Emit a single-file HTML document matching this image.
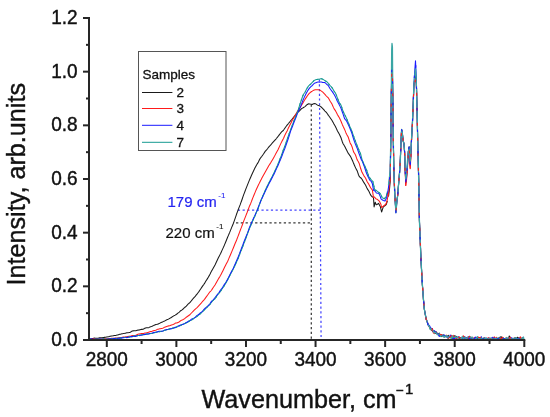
<!DOCTYPE html>
<html><head><meta charset="utf-8"><title>Spectra</title>
<style>html,body{margin:0;padding:0;background:#fff;}body{width:550px;height:417px;overflow:hidden;}svg{display:block;}</style>
</head><body>
<svg width="550" height="417" viewBox="0 0 550 417">
<rect width="550" height="417" fill="#fff"/>
<g fill="none" stroke-width="1.25">
<line x1="237.9" y1="210.1" x2="320.6" y2="210.1" stroke="#4646ff" stroke-dasharray="2.2 2.51"/>
<line x1="319.4" y1="79.5" x2="321.1" y2="339" stroke="#4646ff" stroke-dasharray="2.2 2.53"/>
<line x1="236" y1="222.9" x2="311.3" y2="222.9" stroke="#3a3a3a" stroke-dasharray="2.3 2.475"/>
<line x1="311.3" y1="104.67" x2="311.3" y2="339" stroke="#3a3a3a" stroke-dasharray="2.2 2.53"/>
</g>
<g fill="none" stroke-width="1.05" stroke-linejoin="round">
<polyline points="89.00,338.59 89.70,338.62 90.40,338.65 91.10,338.64 91.80,338.58 92.50,338.52 93.20,338.38 93.90,338.21 94.60,338.13 95.30,338.26 96.00,338.38 96.70,338.35 97.40,338.26 98.10,338.15 98.80,338.01 99.50,337.86 100.20,337.80 100.90,337.81 101.60,337.81 102.30,337.71 103.00,337.60 103.70,337.49 104.40,337.39 105.10,337.28 105.80,337.15 106.50,337.02 107.20,336.91 107.90,336.83 108.60,336.76 109.30,336.57 110.00,336.35 110.70,336.14 111.40,336.06 112.10,335.97 112.80,335.84 113.50,335.68 114.20,335.51 114.90,335.46 115.60,335.40 116.30,335.28 117.00,335.09 117.70,334.90 118.40,334.72 119.10,334.54 119.80,334.36 120.50,334.17 121.20,333.97 121.90,333.83 122.60,333.71 123.30,333.59 124.00,333.45 124.70,333.31 125.40,333.15 126.10,332.96 126.80,332.78 127.50,332.74 128.20,332.70 128.90,332.60 129.60,332.41 130.30,332.22 131.00,331.80 131.70,331.34 132.40,330.99 133.10,330.89 133.80,330.79 134.50,330.73 135.20,330.70 135.90,330.65 136.60,330.46 137.30,330.27 138.00,330.12 138.70,329.99 139.40,329.87 140.10,329.69 140.80,329.51 141.50,329.39 142.20,329.36 142.90,329.33 143.60,328.94 144.30,328.49 145.00,328.12 145.70,327.98 146.40,327.84 147.10,327.79 147.80,327.78 148.50,327.71 149.20,327.39 149.90,327.05 150.60,326.78 151.30,326.56 152.00,326.32 152.70,325.99 153.40,325.65 154.10,325.31 154.80,324.97 155.50,324.62 156.20,324.47 156.90,324.35 157.60,324.18 158.30,323.90 159.00,323.61 159.70,323.24 160.40,322.83 161.10,322.44 161.80,322.17 162.50,321.90 163.20,321.62 163.90,321.34 164.60,321.06 165.30,320.64 166.00,320.22 166.70,319.85 167.40,319.55 168.10,319.24 168.80,318.88 169.50,318.50 170.20,318.11 170.90,317.70 171.60,317.28 172.30,316.81 173.00,316.33 173.70,315.86 174.40,315.49 175.10,315.12 175.80,314.69 176.50,314.23 177.20,313.75 177.90,313.20 178.60,312.63 179.30,312.03 180.00,311.39 180.70,310.74 181.40,310.27 182.10,309.82 182.80,309.29 183.50,308.58 184.20,307.86 184.90,307.28 185.60,306.75 186.30,306.16 187.00,305.33 187.70,304.48 188.40,303.81 189.10,303.26 189.80,302.69 190.50,301.87 191.20,301.03 191.90,300.17 192.60,299.28 193.30,298.37 194.00,297.60 194.70,296.84 195.40,296.04 196.10,295.20 196.80,294.34 197.50,293.46 198.20,292.55 198.90,291.62 199.60,290.55 200.30,289.47 201.00,288.43 201.70,287.41 202.40,286.36 203.10,285.42 203.80,284.46 204.50,283.41 205.20,282.25 205.90,281.07 206.60,279.96 207.30,278.85 208.00,277.72 208.70,276.56 209.40,275.38 210.10,274.00 210.80,272.54 211.50,271.12 212.20,269.98 212.90,268.82 213.60,267.61 214.30,266.34 215.00,265.06 215.70,263.55 216.40,262.03 217.10,260.52 217.80,259.05 218.50,257.57 219.20,256.21 219.90,254.87 220.60,253.47 221.30,251.92 222.00,250.36 222.70,248.86 223.40,247.36 224.10,245.82 224.80,244.14 225.50,242.43 226.20,240.71 226.90,238.98 227.60,237.22 228.30,235.66 229.00,234.08 229.70,232.42 230.40,230.65 231.10,228.87 231.80,227.17 232.50,225.47 233.20,223.71 233.90,221.81 234.60,219.90 235.30,217.89 236.00,215.83 236.70,213.79 237.40,211.89 238.10,209.99 238.80,208.17 239.50,206.40 240.20,204.63 240.90,202.67 241.60,200.71 242.30,198.72 243.00,196.69 243.70,194.67 244.40,192.81 245.10,190.99 245.80,189.18 246.50,187.39 247.20,185.63 247.90,183.86 248.60,182.12 249.30,180.42 250.00,178.79 250.70,177.19 251.40,175.58 252.10,173.99 252.80,172.43 253.50,170.94 254.20,169.50 254.90,168.10 255.60,166.75 256.30,165.43 257.00,164.26 257.70,163.15 258.40,161.95 259.10,160.50 259.80,159.09 260.50,158.03 261.20,157.14 261.90,156.25 262.60,155.24 263.30,154.25 264.00,153.21 264.70,152.13 265.40,151.07 266.10,150.31 266.80,149.56 267.50,148.73 268.20,147.77 268.90,146.83 269.60,146.09 270.30,145.39 271.00,144.63 271.70,143.73 272.40,142.84 273.10,142.06 273.80,141.32 274.50,140.59 275.20,139.84 275.90,139.09 276.60,138.28 277.30,137.40 278.00,136.52 278.70,135.60 279.40,134.68 280.10,133.77 280.80,132.87 281.50,131.97 282.20,131.35 282.90,130.77 283.60,130.05 284.30,129.01 285.00,127.96 285.70,126.99 286.40,126.05 287.10,125.12 287.80,124.30 288.50,123.48 289.20,122.61 289.90,121.70 290.60,120.79 291.30,120.01 292.00,119.24 292.70,118.41 293.40,117.50 294.10,116.60 294.80,115.77 295.50,114.97 296.20,114.16 296.90,113.33 297.60,112.52 298.30,111.85 299.00,111.25 299.70,110.64 300.40,109.85 301.10,109.08 301.80,108.50 302.50,108.08 303.20,107.70 303.90,107.27 304.60,106.88 305.30,106.35 306.00,105.63 306.70,104.93 307.40,104.46 308.10,104.05 308.80,103.80 309.50,103.91 310.20,104.08 310.90,104.21 311.60,104.36 312.30,104.47 313.00,104.06 313.70,103.69 314.40,103.59 315.10,103.70 315.80,103.86 316.50,104.33 317.20,104.86 317.90,105.25 318.60,105.43 319.30,105.66 320.00,106.13 320.70,106.68 321.40,107.27 322.10,107.88 322.80,108.54 323.50,109.31 324.20,110.16 324.90,111.01 325.60,111.67 326.30,112.37 327.00,113.25 327.70,114.28 328.40,115.35 329.10,116.28 329.80,117.25 330.50,118.24 331.20,119.24 331.90,120.28 332.60,121.52 333.30,122.82 334.00,124.11 334.70,125.28 335.40,126.47 336.10,127.90 336.80,129.44 337.50,130.97 338.20,132.17 338.90,133.38 339.60,134.75 340.30,136.24 341.00,137.75 341.70,139.84 342.40,141.97 343.10,143.69 343.80,144.84 344.50,145.95 345.20,147.33 345.90,148.71 346.60,150.08 347.30,151.51 348.00,152.88 348.70,153.94 349.40,154.85 350.10,155.82 350.80,157.10 351.50,158.44 352.20,159.93 352.90,161.57 353.60,163.32 354.30,164.92 355.00,166.57 355.70,168.09 356.40,169.38 357.10,170.62 357.80,172.66 358.50,174.73 359.20,176.38 359.90,177.15 360.60,177.72 361.30,178.27 362.00,179.20 363.80,182.40 365.50,185.00 367.20,188.60 368.90,191.30 370.40,194.60 371.80,196.50 373.50,197.60 374.10,207.00 375.20,202.20 376.20,204.80 377.00,204.50 378.60,203.40 380.40,206.80 381.60,212.00 383.30,206.80 384.80,205.80 386.20,204.50 387.40,201.00" stroke="#1a1a1a"/>
<polyline points="89.00,338.92 89.70,338.90 90.40,338.87 91.10,338.87 91.80,338.90 92.50,338.93 93.20,338.82 93.90,338.68 94.60,338.67 95.30,338.99 96.00,339.30 96.70,339.35 97.40,339.30 98.10,339.24 98.80,339.13 99.50,339.01 100.20,339.00 100.90,339.07 101.60,339.13 102.30,339.07 103.00,339.01 103.70,338.94 104.40,338.85 105.10,338.76 105.80,338.82 106.50,338.89 107.20,338.91 107.90,338.77 108.60,338.63 109.30,338.56 110.00,338.51 110.70,338.45 111.40,338.36 112.10,338.27 112.80,338.25 113.50,338.28 114.20,338.31 114.90,338.20 115.60,338.09 116.30,338.01 117.00,337.99 117.70,337.96 118.40,337.81 119.10,337.65 119.80,337.52 120.50,337.48 121.20,337.45 121.90,337.32 122.60,337.15 123.30,337.01 124.00,337.03 124.70,337.06 125.40,336.98 126.10,336.83 126.80,336.67 127.50,336.57 128.20,336.47 128.90,336.36 129.60,336.25 130.30,336.13 131.00,335.92 131.70,335.69 132.40,335.52 133.10,335.53 133.80,335.53 134.50,335.50 135.20,335.45 135.90,335.35 136.60,334.94 137.30,334.52 138.00,334.25 138.70,334.09 139.40,333.94 140.10,333.80 140.80,333.66 141.50,333.58 142.20,333.60 142.90,333.61 143.60,333.42 144.30,333.20 145.00,333.02 145.70,332.91 146.40,332.81 147.10,332.64 147.80,332.43 148.50,332.22 149.20,332.00 149.90,331.77 150.60,331.57 151.30,331.39 152.00,331.20 152.70,330.97 153.40,330.74 154.10,330.56 154.80,330.44 155.50,330.31 156.20,329.99 156.90,329.63 157.60,329.33 158.30,329.17 159.00,329.01 159.70,328.84 160.40,328.68 161.10,328.52 161.80,328.41 162.50,328.30 163.20,328.02 163.90,327.59 164.60,327.17 165.30,326.91 166.00,326.65 166.70,326.42 167.40,326.22 168.10,326.02 168.80,325.88 169.50,325.75 170.20,325.56 170.90,325.22 171.60,324.88 172.30,324.68 173.00,324.54 173.70,324.34 174.40,323.83 175.10,323.31 175.80,323.04 176.50,322.97 177.20,322.89 177.90,322.56 178.60,322.22 179.30,321.79 180.00,321.24 180.70,320.67 181.40,320.34 182.10,320.04 182.80,319.71 183.50,319.33 184.20,318.93 184.90,318.40 185.60,317.80 186.30,317.21 187.00,316.74 187.70,316.25 188.40,315.76 189.10,315.28 189.80,314.79 190.50,314.02 191.20,313.24 191.90,312.50 192.60,311.81 193.30,311.12 194.00,310.42 194.70,309.71 195.40,309.04 196.10,308.45 196.80,307.86 197.50,307.14 198.20,306.35 198.90,305.56 199.60,304.81 200.30,304.06 201.00,303.29 201.70,302.51 202.40,301.72 203.10,300.97 203.80,300.20 204.50,299.34 205.20,298.35 205.90,297.35 206.60,296.42 207.30,295.48 208.00,294.52 208.70,293.52 209.40,292.50 210.10,291.71 210.80,291.01 211.50,290.24 212.20,289.14 212.90,288.01 213.60,286.98 214.30,286.01 215.00,285.03 215.70,283.80 216.40,282.54 217.10,281.29 217.80,280.05 218.50,278.79 219.20,277.64 219.90,276.49 220.60,275.27 221.30,273.93 222.00,272.57 222.70,271.15 223.40,269.69 224.10,268.22 224.80,266.83 225.50,265.42 226.20,264.08 226.90,262.80 227.60,261.49 228.30,259.84 229.00,258.17 229.70,256.53 230.40,254.93 231.10,253.32 231.80,251.63 232.50,249.92 233.20,248.19 233.90,246.47 234.60,244.72 235.30,243.07 236.00,241.45 236.70,239.79 237.40,237.93 238.10,236.06 238.80,234.20 239.50,232.33 240.20,230.45 240.90,228.66 241.60,226.86 242.30,225.00 243.00,223.08 243.70,221.15 244.40,219.36 245.10,217.59 245.80,215.82 246.50,214.05 247.20,212.30 247.90,210.40 248.60,208.45 249.30,206.57 250.00,204.99 250.70,203.42 251.40,201.66 252.10,199.75 252.80,197.85 253.50,196.18 254.20,194.54 254.90,192.88 255.60,191.17 256.30,189.50 257.00,187.98 257.70,186.51 258.40,185.07 259.10,183.64 259.80,182.25 260.50,180.84 261.20,179.45 261.90,178.08 262.60,176.76 263.30,175.46 264.00,174.20 264.70,172.96 265.40,171.74 266.10,170.52 266.80,169.30 267.50,168.07 268.20,166.82 268.90,165.57 269.60,164.46 270.30,163.36 271.00,162.25 271.70,161.08 272.40,159.90 273.10,158.70 273.80,157.47 274.50,156.21 275.20,154.88 275.90,153.53 276.60,152.26 277.30,151.04 278.00,149.80 278.70,148.24 279.40,146.66 280.10,145.12 280.80,143.64 281.50,142.15 282.20,140.87 282.90,139.62 283.60,138.25 284.30,136.57 285.00,134.90 285.70,133.51 286.40,132.24 287.10,130.94 287.80,129.37 288.50,127.80 289.20,126.40 289.90,125.12 290.60,123.86 291.30,122.32 292.00,120.80 292.70,119.47 293.40,118.41 294.10,117.37 294.80,116.08 295.50,114.77 296.20,113.50 296.90,112.26 297.60,111.05 298.30,110.07 299.00,109.17 299.70,108.25 300.40,107.09 301.10,105.93 301.80,104.78 302.50,103.62 303.20,102.45 303.90,101.25 304.60,100.04 305.30,98.90 306.00,97.85 306.70,96.84 307.40,95.81 308.10,94.82 308.80,93.93 309.50,93.21 310.20,92.58 310.90,92.00 311.60,91.51 312.30,91.09 313.00,90.61 313.70,90.19 314.40,89.93 315.10,89.80 315.80,89.73 316.50,89.70 317.20,89.73 317.90,89.77 318.60,89.81 319.30,89.90 320.00,90.22 320.70,90.63 321.40,91.09 322.10,91.59 322.80,92.15 323.50,92.79 324.20,93.51 324.90,94.29 325.60,95.12 326.30,96.00 327.00,96.72 327.70,97.33 328.40,97.99 329.10,99.23 329.80,100.53 330.50,101.74 331.20,102.78 331.90,103.86 332.60,105.44 333.30,107.13 334.00,108.63 334.70,109.60 335.40,110.58 336.10,111.88 336.80,113.32 337.50,114.74 338.20,115.86 338.90,116.98 339.60,118.29 340.30,119.75 341.00,121.24 341.70,122.94 342.40,124.67 343.10,126.29 343.80,127.72 344.50,129.16 345.20,130.89 345.90,132.68 346.60,134.31 347.30,135.47 348.00,136.62 348.70,138.54 349.40,140.78 350.10,142.90 350.80,144.13 351.50,145.35 352.20,147.22 352.90,149.55 353.60,151.88 354.30,152.95 355.00,154.03 355.70,155.51 356.40,157.55 357.10,159.62 357.80,160.82 358.50,161.92 359.20,163.41 359.90,165.81 360.60,168.28 361.30,170.22 362.00,172.30 363.80,175.60 365.50,178.00 367.20,181.80 368.90,184.40 370.60,187.80 372.40,190.10 373.50,197.50 374.60,197.00 375.80,198.80 377.60,199.60 379.30,201.10 381.00,204.50 381.60,207.50 382.60,206.80 383.90,205.70 385.20,204.80 386.20,203.40 387.20,200.00 387.90,196.50" stroke="#ff1a1a"/>
<polyline points="89.00,338.97 89.70,339.04 90.40,339.11 91.10,339.23 91.80,339.41 92.50,339.58 93.20,339.55 93.90,339.49 94.60,339.39 95.30,339.21 96.00,339.03 96.70,339.07 97.40,339.21 98.10,339.32 98.80,339.27 99.50,339.21 100.20,339.22 100.90,339.27 101.60,339.32 102.30,339.16 103.00,339.00 103.70,338.96 104.40,339.09 105.10,339.22 105.80,339.21 106.50,339.18 107.20,339.18 107.90,339.25 108.60,339.33 109.30,339.25 110.00,339.10 110.70,338.97 111.40,338.94 112.10,338.90 112.80,338.76 113.50,338.54 114.20,338.32 114.90,338.58 115.60,338.83 116.30,338.80 117.00,338.38 117.70,337.97 118.40,338.07 119.10,338.25 119.80,338.33 120.50,338.13 121.20,337.94 121.90,337.79 122.60,337.67 123.30,337.55 124.00,337.49 124.70,337.42 125.40,337.34 126.10,337.25 126.80,337.16 127.50,337.16 128.20,337.15 128.90,337.09 129.60,336.95 130.30,336.82 131.00,336.83 131.70,336.86 132.40,336.77 133.10,336.39 133.80,336.01 134.50,335.93 135.20,335.98 135.90,335.99 136.60,335.80 137.30,335.62 138.00,335.55 138.70,335.58 139.40,335.61 140.10,335.24 140.80,334.88 141.50,334.68 142.20,334.71 142.90,334.74 143.60,334.68 144.30,334.61 145.00,334.48 145.70,334.21 146.40,333.93 147.10,333.92 147.80,334.00 148.50,334.04 149.20,333.84 149.90,333.64 150.60,333.52 151.30,333.46 152.00,333.40 152.70,333.26 153.40,333.12 154.10,332.91 154.80,332.61 155.50,332.30 156.20,332.15 156.90,332.02 157.60,331.90 158.30,331.80 159.00,331.70 159.70,331.63 160.40,331.55 161.10,331.47 161.80,331.32 162.50,331.16 163.20,330.93 163.90,330.62 164.60,330.32 165.30,330.15 166.00,329.98 166.70,329.80 167.40,329.60 168.10,329.39 168.80,329.21 169.50,329.03 170.20,328.85 170.90,328.68 171.60,328.50 172.30,328.30 173.00,328.09 173.70,327.90 174.40,327.86 175.10,327.82 175.80,327.54 176.50,327.07 177.20,326.60 177.90,326.36 178.60,326.12 179.30,325.89 180.00,325.68 180.70,325.46 181.40,325.08 182.10,324.66 182.80,324.28 183.50,324.02 184.20,323.75 184.90,323.46 185.60,323.15 186.30,322.84 187.00,322.55 187.70,322.25 188.40,321.80 189.10,321.23 189.80,320.65 190.50,320.48 191.20,320.29 191.90,319.93 192.60,319.34 193.30,318.73 194.00,318.28 194.70,317.85 195.40,317.41 196.10,316.96 196.80,316.50 197.50,315.98 198.20,315.42 198.90,314.85 199.60,314.32 200.30,313.77 201.00,313.14 201.70,312.45 202.40,311.75 203.10,311.10 203.80,310.43 204.50,309.77 205.20,309.12 205.90,308.46 206.60,307.67 207.30,306.84 208.00,306.08 208.70,305.54 209.40,304.98 210.10,304.14 210.80,303.19 211.50,302.24 212.20,301.39 212.90,300.53 213.60,299.85 214.30,299.30 215.00,298.74 215.70,297.67 216.40,296.60 217.10,295.55 217.80,294.55 218.50,293.54 219.20,292.82 219.90,292.14 220.60,291.30 221.30,290.12 222.00,288.92 222.70,287.92 223.40,286.99 224.10,286.00 224.80,284.74 225.50,283.44 226.20,282.25 226.90,281.13 227.60,279.98 228.30,278.61 229.00,277.22 229.70,275.84 230.40,274.50 231.10,273.12 231.80,271.79 232.50,270.44 233.20,269.06 233.90,267.64 234.60,266.19 235.30,264.70 236.00,263.19 236.70,261.65 237.40,260.15 238.10,258.62 238.80,256.81 239.50,254.78 240.20,252.73 240.90,251.15 241.60,249.56 242.30,247.81 243.00,245.86 243.70,243.90 244.40,242.08 245.10,240.29 245.80,238.44 246.50,236.47 247.20,234.51 247.90,232.64 248.60,230.81 249.30,229.02 250.00,227.29 250.70,225.60 251.40,223.87 252.10,222.14 252.80,220.44 253.50,218.94 254.20,217.46 254.90,215.92 255.60,214.27 256.30,212.58 257.00,211.04 257.70,209.46 258.40,207.71 259.10,205.70 259.80,203.68 260.50,201.74 261.20,199.88 261.90,198.10 262.60,196.46 263.30,194.88 264.00,193.27 264.70,191.65 265.40,190.08 266.10,188.55 266.80,187.05 267.50,185.59 268.20,184.18 268.90,182.79 269.60,181.40 270.30,180.02 271.00,178.66 271.70,177.38 272.40,176.09 273.10,174.68 273.80,173.22 274.50,171.74 275.20,170.22 275.90,168.67 276.60,167.14 277.30,165.61 278.00,164.05 278.70,162.28 279.40,160.47 280.10,158.71 280.80,157.02 281.50,155.29 282.20,153.28 282.90,151.19 283.60,149.19 284.30,147.47 285.00,145.73 285.70,143.72 286.40,141.59 287.10,139.48 287.80,137.48 288.50,135.50 289.20,133.55 289.90,131.63 290.60,129.75 291.30,127.81 292.00,125.92 292.70,124.08 293.40,122.30 294.10,120.53 294.80,118.91 295.50,117.30 296.20,115.59 296.90,113.69 297.60,111.72 298.30,109.63 299.00,107.38 299.70,105.01 300.40,102.82 301.10,100.76 301.80,98.74 302.50,96.76 303.20,94.94 303.90,93.82 304.60,92.81 305.30,91.65 306.00,90.22 306.70,88.83 307.40,87.69 308.10,86.64 308.80,85.74 309.50,85.09 310.20,84.52 310.90,83.83 311.60,83.13 312.30,82.47 313.00,81.66 313.70,80.90 314.40,80.38 315.10,80.06 315.80,79.80 316.50,79.58 317.20,79.42 317.90,79.31 318.60,79.27 319.30,79.29 320.00,79.06 320.70,78.84 321.40,78.75 322.10,78.94 322.80,79.20 323.50,79.61 324.20,80.12 324.90,80.66 325.60,80.98 326.30,81.36 327.00,81.94 327.70,82.70 328.40,83.53 329.10,84.32 329.80,85.19 330.50,86.00 331.20,86.71 331.90,87.48 332.60,88.61 333.30,89.84 334.00,91.02 334.70,91.96 335.40,92.93 336.10,94.49 336.80,96.34 337.50,98.22 338.20,100.01 338.90,101.85 339.60,103.20 340.30,104.16 341.00,105.10 341.70,107.19 342.40,109.32 343.10,111.22 343.80,112.76 344.50,114.31 345.20,115.69 345.90,117.05 346.60,118.50 347.30,120.19 348.00,121.91 348.70,123.65 349.40,125.43 350.10,127.19 350.80,128.69 351.50,130.23 352.20,132.06 352.90,134.10 353.60,136.14 354.30,138.06 355.00,139.95 355.70,141.84 356.40,143.74 357.10,145.58 357.80,147.28 358.50,149.01 359.20,150.70 359.90,152.19 360.60,153.92 361.30,156.65 362.00,159.80 364.30,165.00 366.60,170.00 368.90,176.90 370.90,179.40 372.90,181.50 374.70,189.80 376.40,190.60 378.10,191.90 380.40,193.60 381.30,195.60 382.10,197.60 383.30,198.20 384.40,198.80 386.20,196.50 387.40,191.50" stroke="#169a92"/>
<polyline points="89.00,339.54 89.70,339.20 90.40,338.85 91.10,338.77 91.80,339.04 92.50,339.30 93.20,339.29 93.90,339.22 94.60,339.18 95.30,339.20 96.00,339.22 96.70,339.24 97.40,339.26 98.10,339.26 98.80,339.11 99.50,338.95 100.20,338.96 100.90,339.10 101.60,339.24 102.30,339.17 103.00,339.10 103.70,339.19 104.40,339.52 105.10,339.84 105.80,339.64 106.50,339.35 107.20,339.12 107.90,339.04 108.60,338.95 109.30,338.90 110.00,338.86 110.70,338.82 111.40,338.74 112.10,338.66 112.80,338.57 113.50,338.49 114.20,338.40 114.90,338.40 115.60,338.39 116.30,338.39 117.00,338.40 117.70,338.41 118.40,338.30 119.10,338.17 119.80,338.08 120.50,338.11 121.20,338.13 121.90,338.01 122.60,337.84 123.30,337.67 124.00,337.61 124.70,337.54 125.40,337.54 126.10,337.58 126.80,337.62 127.50,337.44 128.20,337.26 128.90,337.08 129.60,336.89 130.30,336.71 131.00,336.62 131.70,336.54 132.40,336.48 133.10,336.43 133.80,336.39 134.50,336.38 135.20,336.39 135.90,336.36 136.60,336.06 137.30,335.76 138.00,335.57 138.70,335.45 139.40,335.34 140.10,335.33 140.80,335.32 141.50,335.19 142.20,334.91 142.90,334.62 143.60,334.52 144.30,334.45 145.00,334.38 145.70,334.36 146.40,334.33 147.10,334.21 147.80,334.06 148.50,333.90 149.20,333.73 149.90,333.55 150.60,333.43 151.30,333.34 152.00,333.26 152.70,332.82 153.40,332.39 154.10,332.22 154.80,332.41 155.50,332.60 156.20,332.35 156.90,332.04 157.60,331.75 158.30,331.54 159.00,331.33 159.70,331.27 160.40,331.28 161.10,331.27 161.80,331.15 162.50,331.02 163.20,330.81 163.90,330.54 164.60,330.27 165.30,330.03 166.00,329.80 166.70,329.62 167.40,329.53 168.10,329.43 168.80,329.24 169.50,329.04 170.20,328.86 170.90,328.78 171.60,328.70 172.30,328.47 173.00,328.19 173.70,327.91 174.40,327.63 175.10,327.35 175.80,327.13 176.50,326.96 177.20,326.79 177.90,326.41 178.60,326.03 179.30,325.67 180.00,325.32 180.70,324.97 181.40,324.78 182.10,324.61 182.80,324.40 183.50,324.08 184.20,323.75 184.90,323.37 185.60,322.95 186.30,322.53 187.00,322.11 187.70,321.69 188.40,321.34 189.10,321.03 189.80,320.71 190.50,320.06 191.20,319.39 191.90,318.93 192.60,318.76 193.30,318.58 194.00,318.13 194.70,317.62 195.40,317.05 196.10,316.35 196.80,315.64 197.50,315.15 198.20,314.74 198.90,314.29 199.60,313.62 200.30,312.93 201.00,312.37 201.70,311.91 202.40,311.42 203.10,310.53 203.80,309.62 204.50,308.85 205.20,308.26 205.90,307.66 206.60,307.09 207.30,306.51 208.00,305.88 208.70,305.17 209.40,304.45 210.10,303.48 210.80,302.39 211.50,301.36 212.20,300.70 212.90,300.02 213.60,299.28 214.30,298.50 215.00,297.71 215.70,296.76 216.40,295.78 217.10,294.92 217.80,294.20 218.50,293.47 219.20,292.34 219.90,291.13 220.60,290.01 221.30,289.14 222.00,288.26 222.70,287.17 223.40,285.98 224.10,284.81 224.80,283.92 225.50,283.00 226.20,281.85 226.90,280.53 227.60,279.18 228.30,277.89 229.00,276.57 229.70,275.18 230.40,273.71 231.10,272.20 231.80,271.02 232.50,269.86 233.20,268.56 233.90,266.94 234.60,265.30 235.30,263.68 236.00,262.06 236.70,260.42 237.40,258.78 238.10,257.12 238.80,255.38 239.50,253.57 240.20,251.74 240.90,249.89 241.60,248.01 242.30,246.16 243.00,244.34 243.70,242.51 244.40,240.69 245.10,238.86 245.80,237.09 246.50,235.47 247.20,233.85 247.90,231.93 248.60,229.89 249.30,227.92 250.00,226.26 250.70,224.63 251.40,223.01 252.10,221.40 252.80,219.84 253.50,218.34 254.20,216.86 254.90,215.39 255.60,213.89 256.30,212.37 257.00,210.62 257.70,208.78 258.40,206.91 259.10,205.08 259.80,203.24 260.50,201.56 261.20,199.97 261.90,198.44 262.60,196.92 263.30,195.46 264.00,193.96 264.70,192.44 265.40,190.96 266.10,189.50 266.80,188.06 267.50,186.65 268.20,185.25 268.90,183.87 269.60,182.57 270.30,181.29 271.00,179.98 271.70,178.58 272.40,177.16 273.10,175.83 273.80,174.52 274.50,173.15 275.20,171.54 275.90,169.91 276.60,168.39 277.30,166.93 278.00,165.44 278.70,163.81 279.40,162.14 280.10,160.47 280.80,158.81 281.50,157.10 282.20,155.27 282.90,153.38 283.60,151.53 284.30,149.83 285.00,148.10 285.70,146.12 286.40,144.04 287.10,141.96 287.80,139.96 288.50,137.96 289.20,135.77 289.90,133.45 290.60,131.14 291.30,129.34 292.00,127.56 292.70,125.73 293.40,123.82 294.10,121.96 294.80,120.24 295.50,118.58 296.20,116.85 296.90,114.87 297.60,112.90 298.30,111.36 299.00,109.99 299.70,108.58 300.40,106.89 301.10,105.22 301.80,103.42 302.50,101.55 303.20,99.68 303.90,98.13 304.60,96.62 305.30,95.15 306.00,93.74 306.70,92.40 307.40,91.20 308.10,90.09 308.80,89.08 309.50,88.14 310.20,87.31 310.90,86.63 311.60,86.08 312.30,85.54 313.00,84.68 313.70,83.87 314.40,83.36 315.10,83.08 315.80,82.86 316.50,82.47 317.20,82.14 317.90,81.99 318.60,82.07 319.30,82.22 320.00,82.10 320.70,81.98 321.40,81.99 322.10,82.23 322.80,82.54 323.50,82.57 324.20,82.52 324.90,82.61 325.60,83.21 326.30,83.89 327.00,84.49 327.70,85.06 328.40,85.70 329.10,86.91 329.80,88.21 330.50,89.34 331.20,90.22 331.90,91.16 332.60,92.14 333.30,93.17 334.00,94.28 334.70,95.55 335.40,96.86 336.10,98.36 336.80,99.96 337.50,101.55 338.20,102.78 338.90,104.03 339.60,105.40 340.30,106.88 341.00,108.38 341.70,110.28 342.40,112.20 343.10,114.20 343.80,116.29 344.50,118.38 345.20,119.38 345.90,120.16 346.60,121.12 347.30,122.57 348.00,124.08 348.70,125.58 349.40,127.11 350.10,128.69 350.80,130.45 351.50,132.23 352.20,134.38 352.90,136.80 353.60,139.22 354.30,141.16 355.00,143.10 355.70,144.90 356.40,146.50 357.10,148.11 357.80,150.05 358.50,152.06 359.20,154.04 359.90,155.89 360.60,157.70 361.30,159.51 362.00,160.60 364.30,166.50 366.60,173.50 368.30,177.20 370.00,180.40 371.20,181.20 372.40,183.80 373.50,190.20 375.00,191.00 376.40,193.00 378.00,193.20 379.30,194.20 380.20,196.40 381.00,198.80 382.20,199.80 383.30,200.50 385.00,201.10 386.70,197.60 387.60,193.00" stroke="#1a1aff"/>
<polyline points="89.00,338.97 89.70,339.04 90.40,339.11 91.10,339.23 91.80,339.41 92.50,339.58 93.20,339.55 93.90,339.49 94.60,339.39 95.30,339.21 96.00,339.03 96.70,339.07 97.40,339.21 98.10,339.32 98.80,339.27 99.50,339.21 100.20,339.22 100.90,339.27 101.60,339.32 102.30,339.16 103.00,339.00 103.70,338.96 104.40,339.09 105.10,339.22 105.80,339.21 106.50,339.18 107.20,339.18 107.90,339.25 108.60,339.33 109.30,339.25 110.00,339.10 110.70,338.97 111.40,338.94 112.10,338.90 112.80,338.76 113.50,338.54 114.20,338.32 114.90,338.58 115.60,338.83 116.30,338.80 117.00,338.38 117.70,337.97 118.40,338.07 119.10,338.25 119.80,338.33 120.50,338.13 121.20,337.94 121.90,337.79 122.60,337.67 123.30,337.55 124.00,337.49 124.70,337.42 125.40,337.34 126.10,337.25 126.80,337.16 127.50,337.16 128.20,337.15 128.90,337.09 129.60,336.95 130.30,336.82 131.00,336.83 131.70,336.86 132.40,336.77 133.10,336.39 133.80,336.01 134.50,335.93 135.20,335.98 135.90,335.99 136.60,335.80 137.30,335.62 138.00,335.55 138.70,335.58 139.40,335.61 140.10,335.24 140.80,334.88 141.50,334.68 142.20,334.71 142.90,334.74 143.60,334.68 144.30,334.61 145.00,334.48 145.70,334.21 146.40,333.93 147.10,333.92 147.80,334.00 148.50,334.04 149.20,333.84 149.90,333.64 150.60,333.52 151.30,333.46 152.00,333.40 152.70,333.26 153.40,333.12 154.10,332.91 154.80,332.61 155.50,332.30 156.20,332.15 156.90,332.02 157.60,331.90 158.30,331.80 159.00,331.70 159.70,331.63 160.40,331.55 161.10,331.47 161.80,331.32 162.50,331.16 163.20,330.93 163.90,330.62 164.60,330.32 165.30,330.15 166.00,329.98 166.70,329.80 167.40,329.60 168.10,329.39 168.80,329.21 169.50,329.03 170.20,328.85 170.90,328.68 171.60,328.50 172.30,328.30 173.00,328.09 173.70,327.90 174.40,327.86 175.10,327.82 175.80,327.54 176.50,327.07 177.20,326.60 177.90,326.36 178.60,326.12 179.30,325.89 180.00,325.68 180.70,325.46 181.40,325.08 182.10,324.66 182.80,324.28 183.50,324.02 184.20,323.75 184.90,323.46 185.60,323.15 186.30,322.84 187.00,322.55 187.70,322.25 188.40,321.80 189.10,321.23 189.80,320.65 190.50,320.48 191.20,320.29 191.90,319.93 192.60,319.34 193.30,318.73 194.00,318.28 194.70,317.85 195.40,317.41 196.10,316.96 196.80,316.50 197.50,315.98 198.20,315.42 198.90,314.85 199.60,314.32 200.30,313.77 201.00,313.14 201.70,312.45 202.40,311.75 203.10,311.10 203.80,310.43 204.50,309.77 205.20,309.12 205.90,308.46 206.60,307.67 207.30,306.84 208.00,306.08 208.70,305.54 209.40,304.98 210.10,304.14 210.80,303.19 211.50,302.24 212.20,301.39 212.90,300.53 213.60,299.85 214.30,299.30 215.00,298.74 215.70,297.67 216.40,296.60 217.10,295.55 217.80,294.55 218.50,293.54 219.20,292.82 219.90,292.14 220.60,291.30 221.30,290.12 222.00,288.92 222.70,287.92 223.40,286.99 224.10,286.00 224.80,284.74 225.50,283.44 226.20,282.25 226.90,281.13 227.60,279.98 228.30,278.61 229.00,277.22 229.70,275.84 230.40,274.50 231.10,273.12 231.80,271.79 232.50,270.44 233.20,269.06 233.90,267.64 234.60,266.19 235.30,264.70 236.00,263.19 236.70,261.65 237.40,260.15 238.10,258.62 238.80,256.81 239.50,254.78 240.20,252.73 240.90,251.15 241.60,249.56 242.30,247.81 243.00,245.86 243.70,243.90 244.40,242.08 245.10,240.29 245.80,238.44 246.50,236.47 247.20,234.51 247.90,232.64 248.60,230.81 249.30,229.02 250.00,227.29 250.70,225.60 251.40,223.87 252.10,222.14 252.80,220.44 253.50,218.94 254.20,217.46 254.90,215.92 255.60,214.27 256.30,212.58 257.00,211.04 257.70,209.46 258.40,207.71 259.10,205.70 259.80,203.68 260.50,201.74 261.20,199.88 261.90,198.10 262.60,196.46 263.30,194.88 264.00,193.27 264.70,191.65 265.40,190.08 266.10,188.55 266.80,187.05 267.50,185.59 268.20,184.18 268.90,182.79 269.60,181.40 270.30,180.02 271.00,178.66 271.70,177.38 272.40,176.09 273.10,174.68 273.80,173.22 274.50,171.74 275.20,170.22 275.90,168.67 276.60,167.14 277.30,165.61 278.00,164.05 278.70,162.28 279.40,160.47 280.10,158.71 280.80,157.02 281.50,155.29 282.20,153.28 282.90,151.19 283.60,149.19 284.30,147.47 285.00,145.73 285.70,143.72 286.40,141.59 287.10,139.48 287.80,137.48 288.50,135.50 289.20,133.55 289.90,131.63 290.60,129.75 291.30,127.81 292.00,125.92 292.70,124.08 293.40,122.30 294.10,120.53 294.80,118.91 295.50,117.30 296.20,115.59 296.90,113.69 297.60,111.72 298.30,109.63 299.00,107.38 299.70,105.01 300.40,102.82 301.10,100.76 301.80,98.74 302.50,96.76 303.20,94.94 303.90,93.82 304.60,92.81 305.30,91.65 306.00,90.22 306.70,88.83 307.40,87.69 308.10,86.64 308.80,85.74 309.50,85.09 310.20,84.52 310.90,83.83 311.60,83.13 312.30,82.47 313.00,81.66 313.70,80.90 314.40,80.38 315.10,80.06 315.80,79.80 316.50,79.58 317.20,79.42 317.90,79.31 318.60,79.27 319.30,79.29 320.00,79.06 320.70,78.84 321.40,78.75 322.10,78.94 322.80,79.20 323.50,79.61 324.20,80.12 324.90,80.66 325.60,80.98 326.30,81.36 327.00,81.94 327.70,82.70 328.40,83.53 329.10,84.32 329.80,85.19 330.50,86.00 331.20,86.71 331.90,87.48 332.60,88.61 333.30,89.84 334.00,91.02 334.70,91.96 335.40,92.93 336.10,94.49 336.80,96.34 337.50,98.22 338.20,100.01 338.90,101.85 339.60,103.20 340.30,104.16 341.00,105.10 341.70,107.19 342.40,109.32 343.10,111.22 343.80,112.76 344.50,114.31 345.20,115.69 345.90,117.05 346.60,118.50 347.30,120.19 348.00,121.91 348.70,123.65 349.40,125.43 350.10,127.19 350.80,128.69 351.50,130.23 352.20,132.06 352.90,134.10 353.60,136.14 354.30,138.06 355.00,139.95 355.70,141.84 356.40,143.74 357.10,145.58 357.80,147.28 358.50,149.01 359.20,150.70 359.90,152.19 360.60,153.92 361.30,156.65 362.00,159.80 364.30,165.00 366.60,170.00 368.90,176.90 370.90,179.40 372.90,181.50 374.70,189.80 376.40,190.60 378.10,191.90 380.40,193.60 381.30,195.60 382.10,197.60 383.30,198.20 384.40,198.80 386.20,196.50 387.40,191.50" stroke="#169a92" stroke-dasharray="1.6 2.9"/>
<polyline points="388.50,196.50 389.50,189.00 390.20,181.50 390.80,140.00 391.30,95.00 391.70,81.00 392.00,75.00 392.40,78.00 392.80,95.00 393.30,140.00 393.90,172.00 394.80,195.00 395.90,211.00 396.80,201.00 397.60,196.00 398.60,184.00 399.60,172.00 400.40,158.00 401.00,142.00 401.60,129.50 402.30,133.00 403.20,141.00 404.00,144.00 404.60,152.00 405.20,171.00 405.80,183.00 406.50,178.00 407.50,165.00 408.40,151.00 409.10,147.00 409.70,156.50 410.20,166.00 410.80,156.00 411.60,138.00 412.40,124.00 413.20,104.00 413.90,85.00 414.60,79.50 415.50,74.00 416.10,79.50 416.50,88.00 417.10,112.00 417.70,140.00 418.70,180.00 419.40,220.00 421.00,260.00 422.40,285.00 423.50,300.00 424.30,309.00 425.30,314.30 426.30,319.54 427.30,322.60 428.30,324.86 429.30,326.64 430.30,329.17 431.30,329.96 432.30,330.86 433.30,331.71 434.30,331.26 435.30,333.58 436.30,331.89 437.30,333.54 438.30,333.96 439.30,333.15 440.30,334.82 441.30,336.60 442.30,335.21 443.30,334.73 444.30,335.85 445.30,336.82 446.30,336.43 447.30,336.44 448.30,335.41 449.30,337.21 450.30,337.29 451.30,338.11 452.30,338.32 453.30,337.73 454.30,335.84 455.30,336.10 456.30,336.47 457.30,337.75 458.30,336.91 459.30,338.78 460.30,337.97 461.30,338.16 462.30,338.55 463.30,338.24 464.30,336.79 465.30,339.60 466.30,339.31 467.30,339.40 468.30,337.51 469.30,336.61 470.30,336.94 471.30,337.36 472.30,339.05 473.30,339.10 474.30,339.60 475.30,339.60 476.30,338.86 477.30,338.74 478.30,338.14 479.30,338.18 480.30,337.50 481.30,338.93 482.30,338.78 483.30,338.18 484.30,337.85 485.30,338.94 486.30,339.60 487.30,338.65 488.30,338.84 489.30,338.15 490.30,338.42 491.30,338.38 492.30,338.42 493.30,338.17 494.30,339.03 495.30,339.60 496.30,337.90 497.30,339.60 498.30,338.38 499.30,338.42 500.30,336.90 501.30,336.69 502.30,339.38 503.30,337.83 504.30,339.45 505.30,338.81 506.30,338.99 507.30,339.60 508.30,338.73 509.30,336.02 510.30,337.33 511.30,339.60 512.30,339.60 513.30,338.74 514.30,338.24 515.30,337.66 516.30,339.31 517.30,337.33 518.30,337.80 519.30,338.98 520.30,338.96 521.30,338.66 522.30,339.60 523.30,337.84 524.00,337.89" stroke="#1a1a1a"/>
<polyline points="387.90,196.50 388.80,191.00 389.60,183.80 390.20,178.00 390.80,140.00 391.30,95.00 391.70,76.00 392.00,70.00 392.40,73.00 392.80,95.00 393.30,140.00 393.90,172.00 394.80,195.00 395.90,212.00 396.80,202.00 397.60,196.00 398.60,184.00 399.60,172.00 400.40,158.00 401.00,142.00 401.60,129.50 402.30,133.00 403.20,141.00 404.00,144.00 404.60,152.00 405.20,173.50 405.80,185.50 406.50,180.50 407.50,167.50 408.40,151.00 409.10,147.00 409.70,157.85 410.20,168.70 410.80,158.70 411.60,138.00 412.40,124.00 413.20,104.00 413.90,85.00 414.60,82.50 415.50,80.00 416.10,82.50 416.50,88.00 417.10,112.00 417.70,140.00 418.70,180.00 419.40,220.00 421.00,260.00 422.40,285.00 423.50,300.00 424.30,309.00 425.30,314.89 426.30,319.64 427.30,321.82 428.30,324.70 429.30,326.99 430.30,327.68 431.30,330.07 432.30,328.61 433.30,332.92 434.30,333.60 435.30,331.53 436.30,333.04 437.30,333.31 438.30,334.02 439.30,335.47 440.30,334.50 441.30,334.45 442.30,336.14 443.30,336.95 444.30,335.59 445.30,336.40 446.30,335.09 447.30,337.36 448.30,338.64 449.30,337.37 450.30,336.89 451.30,335.27 452.30,336.85 453.30,335.42 454.30,337.98 455.30,338.94 456.30,338.69 457.30,337.71 458.30,338.08 459.30,337.15 460.30,338.03 461.30,338.11 462.30,337.97 463.30,335.68 464.30,338.27 465.30,338.47 466.30,337.45 467.30,338.52 468.30,338.89 469.30,336.32 470.30,339.03 471.30,337.82 472.30,337.27 473.30,338.45 474.30,337.65 475.30,337.95 476.30,337.48 477.30,337.79 478.30,337.33 479.30,337.89 480.30,337.47 481.30,337.25 482.30,339.40 483.30,338.51 484.30,338.87 485.30,339.60 486.30,339.13 487.30,338.57 488.30,337.61 489.30,339.29 490.30,339.02 491.30,339.53 492.30,338.53 493.30,338.33 494.30,336.83 495.30,339.17 496.30,337.32 497.30,338.25 498.30,339.12 499.30,338.75 500.30,338.61 501.30,339.09 502.30,337.14 503.30,338.75 504.30,339.60 505.30,339.60 506.30,337.41 507.30,339.56 508.30,339.12 509.30,337.88 510.30,337.56 511.30,338.63 512.30,339.60 513.30,339.20 514.30,337.95 515.30,338.88 516.30,339.60 517.30,338.72 518.30,338.40 519.30,339.22 520.30,336.98 521.30,339.21 522.30,337.63 523.30,338.76 524.00,339.16" stroke="#ff1a1a"/>
<polyline points="387.60,193.00 388.50,187.30 389.40,180.00 390.20,172.30 390.80,140.00 391.30,95.00 391.70,72.00 392.00,66.00 392.40,69.00 392.80,95.00 393.30,140.00 393.90,172.00 394.80,195.00 395.90,213.00 396.80,203.00 397.60,196.00 398.60,184.00 399.60,172.00 400.40,158.00 401.00,142.00 401.60,129.50 402.30,133.00 403.20,141.00 404.00,144.00 404.60,152.00 405.20,170.00 405.80,182.00 406.50,177.00 407.50,164.00 408.40,151.00 409.10,147.00 409.70,156.00 410.20,165.00 410.80,155.00 411.60,138.00 412.40,124.00 413.20,104.00 413.90,85.00 414.60,72.90 415.50,60.80 416.10,72.90 416.50,88.00 417.10,112.00 417.70,140.00 418.70,180.00 419.40,220.00 421.00,260.00 422.40,285.00 423.50,300.00 424.30,309.00 425.30,314.41 426.30,319.56 427.30,321.77 428.30,325.64 429.30,325.27 430.30,327.11 431.30,328.54 432.30,328.47 433.30,331.85 434.30,330.67 435.30,331.65 436.30,332.81 437.30,334.45 438.30,333.64 439.30,336.31 440.30,334.89 441.30,334.96 442.30,335.88 443.30,335.64 444.30,335.02 445.30,335.63 446.30,336.41 447.30,337.78 448.30,336.83 449.30,337.19 450.30,334.98 451.30,336.74 452.30,337.03 453.30,338.64 454.30,338.59 455.30,337.42 456.30,337.86 457.30,337.44 458.30,336.96 459.30,337.68 460.30,337.44 461.30,338.12 462.30,338.49 463.30,337.78 464.30,338.94 465.30,337.07 466.30,338.08 467.30,338.28 468.30,336.58 469.30,338.71 470.30,338.83 471.30,339.60 472.30,338.26 473.30,338.85 474.30,338.93 475.30,337.01 476.30,338.68 477.30,337.21 478.30,338.70 479.30,339.09 480.30,338.71 481.30,336.75 482.30,339.60 483.30,338.78 484.30,339.39 485.30,337.97 486.30,338.24 487.30,339.60 488.30,338.43 489.30,338.25 490.30,338.31 491.30,339.50 492.30,337.32 493.30,338.40 494.30,337.93 495.30,339.60 496.30,339.60 497.30,338.80 498.30,338.92 499.30,338.54 500.30,338.36 501.30,338.60 502.30,339.60 503.30,338.51 504.30,338.54 505.30,339.04 506.30,339.60 507.30,339.20 508.30,337.89 509.30,338.86 510.30,338.83 511.30,337.69 512.30,338.19 513.30,339.13 514.30,338.47 515.30,339.60 516.30,339.15 517.30,338.47 518.30,338.80 519.30,338.10 520.30,338.32 521.30,339.55 522.30,338.84 523.30,337.27 524.00,337.76" stroke="#1a1aff"/>
<polyline points="388.50,185.00 389.40,178.00 390.20,170.00 390.80,140.00 391.30,95.00 391.70,49.50 392.00,43.50 392.40,46.50 392.80,95.00 393.30,140.00 393.90,172.00 394.80,195.00 395.90,212.50 396.80,202.50 397.60,196.00 398.60,184.00 399.60,172.00 400.40,158.00 401.00,142.00 401.60,129.50 402.30,133.00 403.20,141.00 404.00,144.00 404.60,152.00 405.20,166.80 405.80,178.80 406.50,173.80 407.50,160.80 408.40,151.00 409.10,147.00 409.70,154.50 410.20,162.00 410.80,152.00 411.60,138.00 412.40,124.00 413.20,104.00 413.90,85.00 414.60,77.00 415.50,69.00 416.10,77.00 416.50,88.00 417.10,112.00 417.70,140.00 418.70,180.00 419.40,220.00 421.00,260.00 422.40,285.00 423.50,300.00 424.30,309.00 425.30,314.67 426.30,319.20 427.30,322.28 428.30,325.03 429.30,326.42 430.30,329.57 431.30,328.82 432.30,330.01 433.30,330.74 434.30,332.87 435.30,332.41 436.30,333.22 437.30,334.57 438.30,334.98 439.30,333.79 440.30,336.46 441.30,335.44 442.30,336.30 443.30,336.03 444.30,337.38 445.30,335.80 446.30,335.74 447.30,336.79 448.30,337.79 449.30,336.78 450.30,337.65 451.30,338.30 452.30,335.86 453.30,338.33 454.30,338.22 455.30,336.92 456.30,337.38 457.30,337.11 458.30,338.30 459.30,337.16 460.30,338.33 461.30,339.05 462.30,336.44 463.30,338.34 464.30,337.95 465.30,337.63 466.30,338.47 467.30,338.02 468.30,336.84 469.30,337.69 470.30,338.22 471.30,337.63 472.30,337.17 473.30,339.60 474.30,339.60 475.30,339.52 476.30,338.53 477.30,336.68 478.30,338.22 479.30,338.93 480.30,338.10 481.30,338.00 482.30,338.81 483.30,339.60 484.30,338.82 485.30,338.69 486.30,337.99 487.30,339.60 488.30,338.95 489.30,338.65 490.30,338.46 491.30,338.25 492.30,338.97 493.30,339.60 494.30,338.89 495.30,339.31 496.30,338.21 497.30,339.14 498.30,337.66 499.30,339.60 500.30,338.46 501.30,339.35 502.30,339.04 503.30,339.60 504.30,339.45 505.30,339.50 506.30,337.59 507.30,338.03 508.30,338.00 509.30,338.06 510.30,338.15 511.30,339.60 512.30,338.83 513.30,338.89 514.30,338.09 515.30,338.08 516.30,337.73 517.30,339.60 518.30,338.98 519.30,339.50 520.30,339.09 521.30,338.12 522.30,338.84 523.30,337.08 524.00,339.51" stroke="#3aa6a4" stroke-width="1.3"/>
<polyline points="387.90,196.50 388.80,191.00 389.60,183.80 390.20,178.00 390.80,140.00 391.30,95.00 391.70,76.00 392.00,70.00 392.40,73.00 392.80,95.00 393.30,140.00 393.90,172.00 394.80,195.00 395.90,212.00 396.80,202.00 397.60,196.00 398.60,184.00 399.60,172.00 400.40,158.00 401.00,142.00 401.60,129.50 402.30,133.00 403.20,141.00 404.00,144.00 404.60,152.00 405.20,173.50 405.80,185.50 406.50,180.50 407.50,167.50 408.40,151.00 409.10,147.00 409.70,157.85 410.20,168.70 410.80,158.70 411.60,138.00 412.40,124.00 413.20,104.00 413.90,85.00 414.60,82.50 415.50,80.00 416.10,82.50 416.50,88.00 417.10,112.00 417.70,140.00 418.70,180.00 419.40,220.00 421.00,260.00 422.40,285.00 423.50,300.00 424.30,309.00 425.30,314.89 426.30,319.64 427.30,321.82 428.30,324.70 429.30,326.99 430.30,327.68 431.30,330.07 432.30,328.61 433.30,332.92 434.30,333.60 435.30,331.53 436.30,333.04 437.30,333.31 438.30,334.02 439.30,335.47 440.30,334.50 441.30,334.45 442.30,336.14 443.30,336.95 444.30,335.59 445.30,336.40 446.30,335.09 447.30,337.36 448.30,338.64 449.30,337.37 450.30,336.89 451.30,335.27 452.30,336.85 453.30,335.42 454.30,337.98 455.30,338.94 456.30,338.69 457.30,337.71 458.30,338.08 459.30,337.15 460.30,338.03 461.30,338.11 462.30,337.97 463.30,335.68 464.30,338.27 465.30,338.47 466.30,337.45 467.30,338.52 468.30,338.89 469.30,336.32 470.30,339.03 471.30,337.82 472.30,337.27 473.30,338.45 474.30,337.65 475.30,337.95 476.30,337.48 477.30,337.79 478.30,337.33 479.30,337.89 480.30,337.47 481.30,337.25 482.30,339.40 483.30,338.51 484.30,338.87 485.30,339.60 486.30,339.13 487.30,338.57 488.30,337.61 489.30,339.29 490.30,339.02 491.30,339.53 492.30,338.53 493.30,338.33 494.30,336.83 495.30,339.17 496.30,337.32 497.30,338.25 498.30,339.12 499.30,338.75 500.30,338.61 501.30,339.09 502.30,337.14 503.30,338.75 504.30,339.60 505.30,339.60 506.30,337.41 507.30,339.56 508.30,339.12 509.30,337.88 510.30,337.56 511.30,338.63 512.30,339.60 513.30,339.20 514.30,337.95 515.30,338.88 516.30,339.60 517.30,338.72 518.30,338.40 519.30,339.22 520.30,336.98 521.30,339.21 522.30,337.63 523.30,338.76 524.00,339.16" stroke="#ff1a1a" stroke-dasharray="3 12" stroke-dashoffset="0"/>
<polyline points="387.60,193.00 388.50,187.30 389.40,180.00 390.20,172.30 390.80,140.00 391.30,95.00 391.70,72.00 392.00,66.00 392.40,69.00 392.80,95.00 393.30,140.00 393.90,172.00 394.80,195.00 395.90,213.00 396.80,203.00 397.60,196.00 398.60,184.00 399.60,172.00 400.40,158.00 401.00,142.00 401.60,129.50 402.30,133.00 403.20,141.00 404.00,144.00 404.60,152.00 405.20,170.00 405.80,182.00 406.50,177.00 407.50,164.00 408.40,151.00 409.10,147.00 409.70,156.00 410.20,165.00 410.80,155.00 411.60,138.00 412.40,124.00 413.20,104.00 413.90,85.00 414.60,72.90 415.50,60.80 416.10,72.90 416.50,88.00 417.10,112.00 417.70,140.00 418.70,180.00 419.40,220.00 421.00,260.00 422.40,285.00 423.50,300.00 424.30,309.00 425.30,314.41 426.30,319.56 427.30,321.77 428.30,325.64 429.30,325.27 430.30,327.11 431.30,328.54 432.30,328.47 433.30,331.85 434.30,330.67 435.30,331.65 436.30,332.81 437.30,334.45 438.30,333.64 439.30,336.31 440.30,334.89 441.30,334.96 442.30,335.88 443.30,335.64 444.30,335.02 445.30,335.63 446.30,336.41 447.30,337.78 448.30,336.83 449.30,337.19 450.30,334.98 451.30,336.74 452.30,337.03 453.30,338.64 454.30,338.59 455.30,337.42 456.30,337.86 457.30,337.44 458.30,336.96 459.30,337.68 460.30,337.44 461.30,338.12 462.30,338.49 463.30,337.78 464.30,338.94 465.30,337.07 466.30,338.08 467.30,338.28 468.30,336.58 469.30,338.71 470.30,338.83 471.30,339.60 472.30,338.26 473.30,338.85 474.30,338.93 475.30,337.01 476.30,338.68 477.30,337.21 478.30,338.70 479.30,339.09 480.30,338.71 481.30,336.75 482.30,339.60 483.30,338.78 484.30,339.39 485.30,337.97 486.30,338.24 487.30,339.60 488.30,338.43 489.30,338.25 490.30,338.31 491.30,339.50 492.30,337.32 493.30,338.40 494.30,337.93 495.30,339.60 496.30,339.60 497.30,338.80 498.30,338.92 499.30,338.54 500.30,338.36 501.30,338.60 502.30,339.60 503.30,338.51 504.30,338.54 505.30,339.04 506.30,339.60 507.30,339.20 508.30,337.89 509.30,338.86 510.30,338.83 511.30,337.69 512.30,338.19 513.30,339.13 514.30,338.47 515.30,339.60 516.30,339.15 517.30,338.47 518.30,338.80 519.30,338.10 520.30,338.32 521.30,339.55 522.30,338.84 523.30,337.27 524.00,337.76" stroke="#1a1aff" stroke-dasharray="2.5 19" stroke-dashoffset="8"/>
</g>
<g stroke="#262626" stroke-width="2" fill="none">
<path d="M89,17 V341 M88,340 H525.3"/>
<path d="M83,340.00 H89"/>
<path d="M83,286.33 H89"/>
<path d="M83,232.67 H89"/>
<path d="M83,179.00 H89"/>
<path d="M83,125.34 H89"/>
<path d="M83,71.67 H89"/>
<path d="M83,18.00 H89"/>
<path d="M86,313.17 H89"/>
<path d="M86,259.50 H89"/>
<path d="M86,205.84 H89"/>
<path d="M86,152.17 H89"/>
<path d="M86,98.50 H89"/>
<path d="M86,44.84 H89"/>
<path d="M106.80,340 V347"/>
<path d="M176.38,340 V347"/>
<path d="M245.97,340 V347"/>
<path d="M315.55,340 V347"/>
<path d="M385.14,340 V347"/>
<path d="M454.72,340 V347"/>
<path d="M524.30,340 V347"/>
<path d="M141.59,340 V344"/>
<path d="M211.18,340 V344"/>
<path d="M280.76,340 V344"/>
<path d="M350.34,340 V344"/>
<path d="M419.93,340 V344"/>
<path d="M489.51,340 V344"/>
</g>
<g font-family="'Liberation Sans', sans-serif" font-size="19" fill="#111" stroke="#111" stroke-width="0.4" paint-order="stroke">
<text transform="translate(77.6,346.10) scale(1,1.05)" text-anchor="end">0.0</text>
<text transform="translate(77.6,292.43) scale(1,1.05)" text-anchor="end">0.2</text>
<text transform="translate(77.6,238.77) scale(1,1.05)" text-anchor="end">0.4</text>
<text transform="translate(77.6,185.10) scale(1,1.05)" text-anchor="end">0.6</text>
<text transform="translate(77.6,131.44) scale(1,1.05)" text-anchor="end">0.8</text>
<text transform="translate(77.6,77.77) scale(1,1.05)" text-anchor="end">1.0</text>
<text transform="translate(77.6,24.10) scale(1,1.05)" text-anchor="end">1.2</text>
<text transform="translate(106.80,366) scale(1,1.03)" text-anchor="middle">2800</text>
<text transform="translate(176.38,366) scale(1,1.03)" text-anchor="middle">3000</text>
<text transform="translate(245.97,366) scale(1,1.03)" text-anchor="middle">3200</text>
<text transform="translate(315.55,366) scale(1,1.03)" text-anchor="middle">3400</text>
<text transform="translate(385.14,366) scale(1,1.03)" text-anchor="middle">3600</text>
<text transform="translate(454.72,366) scale(1,1.03)" text-anchor="middle">3800</text>
<text transform="translate(524.30,366) scale(1,1.03)" text-anchor="middle">4000</text>
</g>
<g font-family="'Liberation Sans', sans-serif" font-size="25.2" fill="#111" stroke="#111" stroke-width="0.4" paint-order="stroke">
<text x="201.5" y="407.8">Wavenumber, cm<tspan font-size="13.5" dx="-0.6" dy="-12.4">−</tspan><tspan font-size="15" dx="1.3" dy="-1.6">1</tspan></text>
<text transform="translate(25,285.5) rotate(-90)">Intensity, arb.units</text>
</g>
<rect x="138.5" y="51.5" width="87.5" height="99" fill="none" stroke="#555" stroke-width="1"/>
<g font-family="'Liberation Sans', sans-serif" font-size="13.5" fill="#111" stroke="#111" stroke-width="0.3" paint-order="stroke">
<text x="142.5" y="79.2">Samples</text>
<text x="176.5" y="97.1">2</text>
<text x="176.5" y="113.1">3</text>
<text x="176.5" y="129.9">4</text>
<text x="176.5" y="146.9">7</text>
</g>
<line x1="142" y1="92.5" x2="172.4" y2="92.5" stroke="#1a1a1a" stroke-width="1"/>
<line x1="142" y1="108.5" x2="172.4" y2="108.5" stroke="#ff1a1a" stroke-width="1"/>
<line x1="142" y1="125.3" x2="172.4" y2="125.3" stroke="#1a1aff" stroke-width="1"/>
<line x1="142" y1="142.3" x2="172.4" y2="142.3" stroke="#169a92" stroke-width="1"/>
<g font-family="'Liberation Sans', sans-serif" font-size="15" stroke-width="0.2" paint-order="stroke">
<text x="167.5" y="207.1" fill="#2424f0" stroke="#2424f0">179 cm<tspan font-size="8" dx="1.6" dy="-8.9" stroke-width="0.1">-1</tspan></text>
<text x="165.5" y="237.9" fill="#111" stroke="#111">220 cm<tspan font-size="8" dx="1.6" dy="-8.9" stroke-width="0.1">-1</tspan></text>
</g>
</svg>
</body></html>
